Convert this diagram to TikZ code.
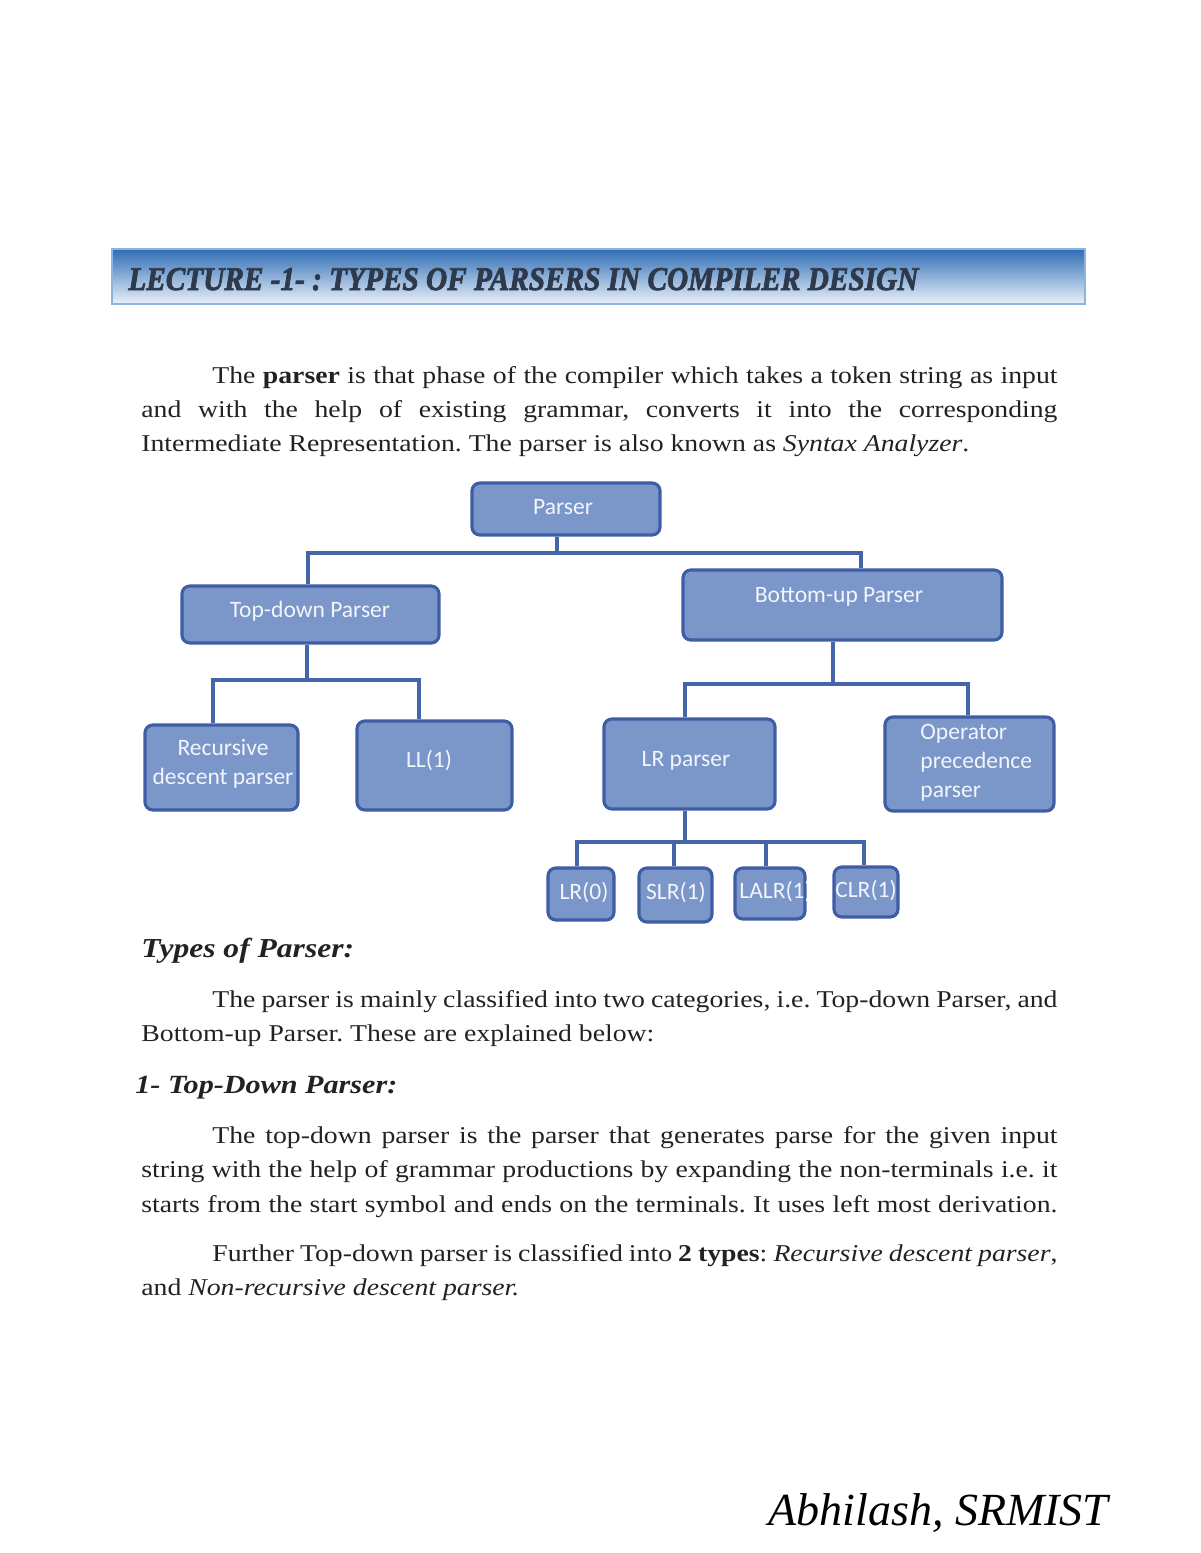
\documentclass[tikz,border=0pt]{standalone}
\usepackage{fontspec}
\setmainfont{Liberation Serif}[FakeStretch=1.15]
\newfontfamily\boxfont{Carlito}
\newfontfamily\hdrfont{Liberation Serif}[FakeBold=2.5]
\newfontfamily\sigfont{Liberation Serif}[FakeStretch=1.0]
\usetikzlibrary{calc}
\definecolor{boxfill}{HTML}{7B96C8}
\definecolor{boxedge}{HTML}{3F5DA6}
\definecolor{connc}{HTML}{4565A9}
\definecolor{boxtxt}{HTML}{F2F5FB}
\definecolor{hdrA}{HTML}{2F6DB5}
\definecolor{hdrB}{HTML}{8CB0DC}
\definecolor{hdrC}{HTML}{EAF1F9}
\definecolor{hdredge}{HTML}{8DB3E2}
\definecolor{hdrtxt}{HTML}{2E3A4C}
\definecolor{bodytxt}{HTML}{222222}
\tikzset{
  pbox/.style 2 args={draw=boxedge, fill=boxfill, line width=1.6pt, rounded corners=4pt,
    minimum width=#1*0.51pt, minimum height=#2*0.51pt, inner sep=0pt},
  btxt/.style={text=boxtxt, inner sep=0pt, font=\boxfont\fontsize{12}{14.8}\selectfont},
  conn/.style={draw=connc, line width=1.7pt},
  bline/.style={anchor=base west, inner sep=0pt, text=bodytxt, font=\fontsize{12.3}{17}\selectfont},
  bhead/.style={anchor=base west, inner sep=0pt, text=bodytxt, font=\fontsize{14}{17}\selectfont\bfseries\itshape},
}
\newcommand{\jfull}[1]{\makebox[467.2pt][s]{#1}}
\newcommand{\jind}[1]{\makebox[431pt][s]{#1}}
\begin{document}
\frenchspacing
\begin{tikzpicture}[x=0.51pt,y=-0.51pt]
\useasboundingbox (0,0) rectangle (1200,1553);
\fill[white] (0,0) rectangle (1200,1553);

% header band
\node[draw=hdredge, line width=0.8pt, top color=hdrA, middle color=hdrB, bottom color=hdrC,
      minimum width=973*0.51pt, minimum height=55*0.51pt, inner sep=0pt] (hdr) at (598.5,276.5) {};
\node[anchor=base west, inner sep=0pt, text=hdrtxt] (title) at (128,290)
  {\resizebox{402.9pt}{11.2pt}{\hdrfont\bfseries\itshape LECTURE -1- : TYPES OF PARSERS IN COMPILER DESIGN}};

% paragraph 1
\node[bline] (p1a) at (212,383) {\jind{The \textbf{parser} is that phase of the compiler which takes a token string as input}};
\node[bline] (p1b) at (141,417) {\jfull{and with the help of existing grammar, converts it into the corresponding}};
\node[bline] (p1c) at (141,451) {Intermediate Representation. The parser is also known as \textit{Syntax Analyzer}.};

% diagram boxes
\node[pbox={188}{52}] (parser) at (566,509) {};
\node[pbox={257}{57}] (td) at (310.5,614.5) {};
\node[pbox={319}{70}] (bu) at (842.5,605) {};
\node[pbox={153}{85}] (rd) at (221.5,767.5) {};
\node[pbox={155}{89}] (ll) at (434.5,765.5) {};
\node[pbox={171}{90}] (lr) at (689.5,764) {};
\node[pbox={169}{94}] (op) at (969.5,764) {};
\node[pbox={66}{52}] (lr0) at (581,894) {};
\node[pbox={73}{54}] (slr) at (675.5,895) {};
\node[pbox={70}{51}] (lalr) at (770,893.5) {};
\node[pbox={64}{50}] (clr) at (866,892) {};

% box labels
\node[btxt] (tparser) at (563,507) {Parser};
\node[btxt] (ttd) at (310,611) {Top-down Parser};
\node[btxt] (tbu) at (839,597) {Bottom-up Parser};
\node[btxt, align=center] (trd) at (223,763.5) {Recursive\\descent parser};
\node[btxt] (tll) at (429,761) {LL(1)};
\node[btxt] (tlr) at (686,761) {LR parser};
\node[btxt, align=left, anchor=west] (top) at (920,762.5) {Operator\\precedence\\parser};
\node[btxt] (tlr0) at (584,893) {LR(0)};
\node[btxt] (tslr) at (676,893) {SLR(1)};
\begin{scope}
\clip (735,860) rectangle (806,925);
\node[btxt, anchor=west] (tlalr) at (739,892) {LALR(1)};
\end{scope}
\node[btxt] (tclr) at (866,891) {CLR(1)};

% connectors
\coordinate (a0) at (557,553); \coordinate (a1) at (308,553); \coordinate (a2) at (861,553);
\draw[conn] (parser.south -| a0) -- (a0);
\draw[conn] (td.north -| a1) |- (a2) -- (bu.north -| a2);

\coordinate (b0) at (307,680); \coordinate (b1) at (213,680); \coordinate (b2) at (419,680);
\draw[conn] (td.south -| b0) -- (b0);
\draw[conn] (rd.north -| b1) |- (b2) -- (ll.north -| b2);

\coordinate (c0) at (833,684); \coordinate (c1) at (685,684); \coordinate (c2) at (968,684);
\draw[conn] (bu.south -| c0) -- (c0);
\draw[conn] (lr.north -| c1) |- (c2) -- (op.north -| c2);

\coordinate (d0) at (685,842); \coordinate (d1) at (577,842); \coordinate (d2) at (674,842);
\coordinate (d3) at (766,842); \coordinate (d4) at (864,842);
\draw[conn] (lr.south -| d0) -- (d0);
\draw[conn] (lr0.north -| d1) |- (d4) -- (clr.north -| d4);
\draw[conn] (slr.north -| d2) -- (d2);
\draw[conn] (lalr.north -| d3) -- (d3);

% types of parser
\node[bhead] (h1) at (141,957) {Types of Parser:};
\node[bline] (p2a) at (212,1007) {\jind{The parser is mainly classified into two categories, i.e. Top-down Parser, and}};
\node[bline] (p2b) at (141,1041) {Bottom-up Parser. These are explained below:};

\node[bhead] (h2) at (135,1093) {\resizebox{133.6pt}{!}{1- Top-Down Parser:}};
\node[bline] (p3a) at (212,1143) {\jind{The top-down parser is the parser that generates parse for the given input}};
\node[bline] (p3b) at (141,1177) {\jfull{string with the help of grammar productions by expanding the non-terminals i.e. it}};
\node[bline] (p3c) at (141,1212) {\jfull{starts from the start symbol and ends on the terminals. It uses left most derivation.}};

\node[bline] (p4a) at (212,1261) {\jind{Further Top-down parser is classified into \textbf{2 types}: \textit{Recursive descent parser},}};
\node[bline] (p4b) at (141,1295) {and \textit{Non-recursive descent parser.}};

% signature
\node[anchor=base west, inner sep=0pt, text=black] (sig) at (768,1525)
  {\resizebox{173.4pt}{!}{\sigfont\fontsize{23}{23}\selectfont\itshape Abhilash, SRMIST}};
\end{tikzpicture}
\end{document}
